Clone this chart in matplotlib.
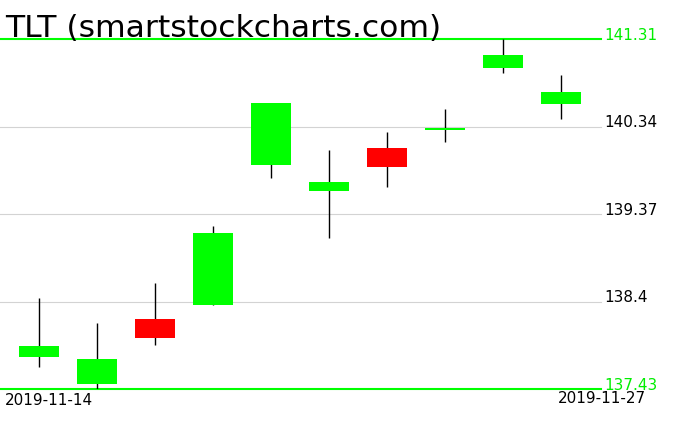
import numpy as np
import matplotlib
matplotlib.use('Agg')
import matplotlib.pyplot as plt

# daily TLT candles, 2019-11-14 .. 2019-11-27
dates = ['2019-11-14', '2019-11-15', '2019-11-18', '2019-11-19', '2019-11-20',
         '2019-11-21', '2019-11-22', '2019-11-25', '2019-11-26', '2019-11-27']
opens = [137.79, 137.48, 138.21, 138.36, 139.91, 139.63, 140.10, 140.30, 140.99, 140.59]
closes = [137.91, 137.76, 138.00, 139.16, 140.60, 139.73, 139.89, 140.32, 141.13, 140.72]
highs = [138.44, 138.16, 138.60, 139.24, 140.60, 140.08, 140.28, 140.53, 141.31, 140.91]
lows = [137.67, 137.43, 137.92, 138.36, 139.77, 139.10, 139.67, 140.17, 140.93, 140.42]

price_ticks = [141.31, 140.34, 139.37, 138.4, 137.43]
title = 'TLT (smartstockcharts.com)'

W, H = 676, 431
fig = plt.figure(figsize=(W / 100, H / 100), dpi=100)
ax = fig.add_axes([0, (H - 390) / H, 601 / W, 350 / H])

x = np.arange(len(dates))
ymin, ymax = min(lows), max(highs)

# gridlines, green lines at the extremes
for t in price_ticks:
    is_edge = t in (price_ticks[0], price_ticks[-1])
    ax.axhline(t, color='#00ff00' if is_edge else '#d3d3d3',
               lw=1.5 if is_edge else 0.8, zorder=1, clip_on=False)
    ax.text(1.005, (t - ymin) / (ymax - ymin) + 0.014, f'{t:g}', transform=ax.transAxes,
            color='#00ee00' if is_edge else 'black', fontsize=11, va='center', ha='left',
            clip_on=False)

colors = ['#00ff00' if c >= o else '#ff0000' for o, c in zip(opens, closes)]
ax.vlines(x, lows, highs, color='black', lw=1, zorder=2)
bottoms = np.minimum(opens, closes)
heights = np.abs(np.array(closes) - np.array(opens))
ax.bar(x, heights, bottom=bottoms, width=0.69, color=colors, zorder=3)

ax.set_xlim(-0.672, 9.69)
ax.set_ylim(ymin, ymax)
ax.axis('off')

fig.text(5 / W, 1 - 37 / H, title, fontsize=22.6, va='baseline', ha='left')
fig.text(5 / W, 1 - 401 / H, dates[0], fontsize=11, va='center', ha='left')
fig.text(646 / W, 1 - 399 / H, dates[-1], fontsize=11, va='center', ha='right')

fig.savefig('out.png', dpi=100)
